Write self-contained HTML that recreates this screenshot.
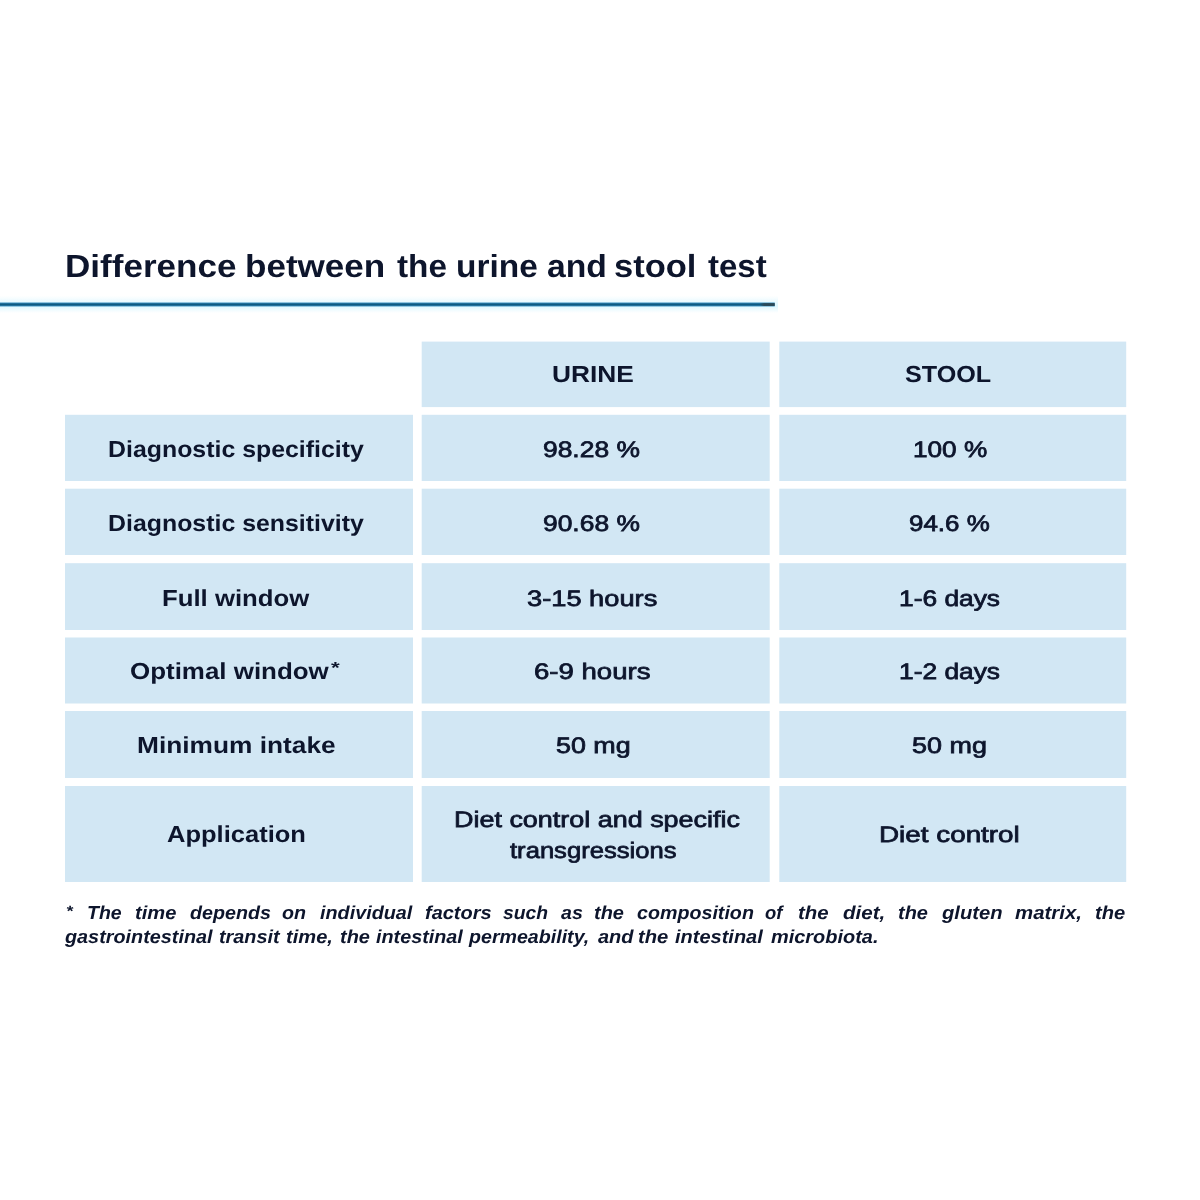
<!DOCTYPE html>
<html lang="en">
<head>
<meta charset="utf-8">
<title>Difference between the urine and stool test</title>
<style>
html,body{margin:0;padding:0;}
body{width:1200px;height:1200px;background:#ffffff;position:relative;overflow:hidden;
  font-family:"Liberation Sans",sans-serif;color:#0d152c;text-rendering:geometricPrecision;}
svg.bg{position:absolute;left:0;top:0;}
.t{position:absolute;white-space:nowrap;line-height:1;transform-origin:0 0;margin:0;}
.b{font-weight:bold}
.r{font-weight:normal;-webkit-text-stroke:0.75px #0d152c}
.i{font-weight:bold;font-style:italic}
.note{margin:0;}
#pg{position:absolute;left:0;top:0;width:1200px;height:1200px;filter:blur(0.7px);}
</style>
</head>
<body>
<div id="pg">
<svg class="bg" width="1200" height="1200" viewBox="0 0 1200 1200">
<defs>
<linearGradient id="rg" x1="0" y1="0" x2="0" y2="1">
<stop offset="0" stop-color="#5aa6cf" stop-opacity="0"/>
<stop offset="0.15" stop-color="#4f9fca" stop-opacity=".5"/>
<stop offset="0.34" stop-color="#1b6c9a"/>
<stop offset="0.5" stop-color="#0e5a81"/>
<stop offset="0.66" stop-color="#1b6c9a"/>
<stop offset="0.85" stop-color="#4f9fca" stop-opacity=".45"/>
<stop offset="1" stop-color="#5aa6cf" stop-opacity="0"/>
</linearGradient>
<linearGradient id="rh" x1="0" y1="0" x2="0" y2="1">
<stop offset="0" stop-color="#d6f5ff" stop-opacity="0"/>
<stop offset="0.45" stop-color="#d6f5ff" stop-opacity=".7"/>
<stop offset="0.6" stop-color="#d6f5ff" stop-opacity=".8"/>
<stop offset="1" stop-color="#d6f5ff" stop-opacity="0"/>
</linearGradient>
<linearGradient id="re" x1="0" y1="0" x2="1" y2="0">
<stop offset="0" stop-color="#2d4652" stop-opacity="0"/>
<stop offset="0.3" stop-color="#2d4652" stop-opacity=".85"/>
<stop offset="1" stop-color="#2d4652" stop-opacity=".9"/>
</linearGradient>
</defs>
<rect x="-6" y="296" width="784" height="17" fill="url(#rh)"/>
<rect x="-6" y="301.5" width="780.7" height="6" fill="url(#rg)"/>
<rect x="759.6" y="303.1" width="15.1" height="2.9" fill="url(#re)"/>
<g fill="#d2e7f4">
<rect x="421.7" y="341.6" width="348" height="65.5"/>
<rect x="779.3" y="341.6" width="346.9" height="65.5"/>
<rect x="65" y="414.8" width="348" height="66.2"/>
<rect x="421.7" y="414.8" width="348" height="66.2"/>
<rect x="779.3" y="414.8" width="346.9" height="66.2"/>
<rect x="65" y="488.7" width="348" height="66.3"/>
<rect x="421.7" y="488.7" width="348" height="66.3"/>
<rect x="779.3" y="488.7" width="346.9" height="66.3"/>
<rect x="65" y="563.2" width="348" height="66.8"/>
<rect x="421.7" y="563.2" width="348" height="66.8"/>
<rect x="779.3" y="563.2" width="346.9" height="66.8"/>
<rect x="65" y="637.5" width="348" height="66"/>
<rect x="421.7" y="637.5" width="348" height="66"/>
<rect x="779.3" y="637.5" width="346.9" height="66"/>
<rect x="65" y="711" width="348" height="67"/>
<rect x="421.7" y="711" width="348" height="67"/>
<rect x="779.3" y="711" width="346.9" height="67"/>
<rect x="65" y="786" width="348" height="96"/>
<rect x="421.7" y="786" width="348" height="96"/>
<rect x="779.3" y="786" width="346.9" height="96"/>
</g>
</svg>
<h1 style="margin:0;font-size:inherit">
<span class="t b" style="left:65.30px;top:251px;font-size:31.9px;transform:scaleX(1.1000)">Difference</span>
<span class="t b" style="left:244.80px;top:251px;font-size:31.9px;transform:scaleX(1.0992)">between</span>
<span class="t b" style="left:396.70px;top:251px;font-size:31.9px;transform:scaleX(1.0447)">the</span>
<span class="t b" style="left:455.90px;top:251px;font-size:31.9px;transform:scaleX(1.0493)">urine</span>
<span class="t b" style="left:546.94px;top:251px;font-size:31.9px;transform:scaleX(1.0556)">and</span>
<span class="t b" style="left:613.92px;top:251px;font-size:31.9px;transform:scaleX(1.0822)">stool</span>
<span class="t b" style="left:708.00px;top:251px;font-size:31.9px;transform:scaleX(1.0357)">test</span>
</h1>
<div class="t b" style="left:552.47px;top:363px;font-size:23.2px;transform:scaleX(1.1343)">URINE</div>
<div class="t b" style="left:904.92px;top:363px;font-size:23.2px;transform:scaleX(1.0846)">STOOL</div>
<div class="t b" style="left:107.55px;top:438px;font-size:23.2px;transform:scaleX(1.0733)">Diagnostic specificity</div>
<div class="t b" style="left:107.55px;top:512px;font-size:23.2px;transform:scaleX(1.0733)">Diagnostic sensitivity</div>
<div class="t b" style="left:161.88px;top:587px;font-size:23.2px;transform:scaleX(1.1100)">Full window</div>
<div class="t b" style="left:130.28px;top:660px;font-size:23.2px;transform:scaleX(1.1181)">Optimal window</div>
<div class="t b" style="left:331.30px;top:661px;font-size:16px;transform:scaleX(1.4000)">*</div>
<div class="t b" style="left:137.23px;top:734px;font-size:23.2px;transform:scaleX(1.1337)">Minimum intake</div>
<div class="t b" style="left:166.90px;top:823px;font-size:23.2px;transform:scaleX(1.1008)">Application</div>
<div class="t r" style="left:543.32px;top:439px;font-size:22.4px;transform:scaleX(1.1790)">98.28 %</div>
<div class="t r" style="left:543.32px;top:513px;font-size:22.4px;transform:scaleX(1.1790)">90.68 %</div>
<div class="t r" style="left:526.78px;top:588px;font-size:22.4px;transform:scaleX(1.2170)">3-15 hours</div>
<div class="t r" style="left:534.27px;top:661px;font-size:22.4px;transform:scaleX(1.2312)">6-9 hours</div>
<div class="t r" style="left:555.80px;top:735px;font-size:22.4px;transform:scaleX(1.2000)">50 mg</div>
<div class="t r" style="left:453.80px;top:809px;font-size:22.4px;transform:scaleX(1.2030)">Diet control and specific</div>
<div class="t r" style="left:510.20px;top:840px;font-size:22.4px;transform:scaleX(1.1434)">transgressions</div>
<div class="t r" style="left:912.58px;top:439px;font-size:22.4px;transform:scaleX(1.1694)">100 %</div>
<div class="t r" style="left:908.84px;top:513px;font-size:22.4px;transform:scaleX(1.1581)">94.6 %</div>
<div class="t r" style="left:898.82px;top:588px;font-size:22.4px;transform:scaleX(1.1765)">1-6 days</div>
<div class="t r" style="left:898.82px;top:661px;font-size:22.4px;transform:scaleX(1.1765)">1-2 days</div>
<div class="t r" style="left:912.10px;top:735px;font-size:22.4px;transform:scaleX(1.2033)">50 mg</div>
<div class="t r" style="left:878.86px;top:824px;font-size:22.4px;transform:scaleX(1.2432)">Diet control</div>
<p class="note">
<span class="t i" style="left:66.34px;top:904px;font-size:15px;transform:scaleX(1.1600)">*</span>
<span class="t i" style="left:87.36px;top:904px;font-size:18.8px;transform:scaleX(1.0378)">The</span>
<span class="t i" style="left:135.37px;top:904px;font-size:18.8px;transform:scaleX(1.0705)">time</span>
<span class="t i" style="left:189.70px;top:904px;font-size:18.8px;transform:scaleX(1.0467)">depends</span>
<span class="t i" style="left:282.07px;top:904px;font-size:18.8px;transform:scaleX(1.0479)">on</span>
<span class="t i" style="left:319.68px;top:904px;font-size:18.8px;transform:scaleX(1.0527)">individual</span>
<span class="t i" style="left:424.52px;top:904px;font-size:18.8px;transform:scaleX(1.0628)">factors</span>
<span class="t i" style="left:502.78px;top:904px;font-size:18.8px;transform:scaleX(1.0270)">such</span>
<span class="t i" style="left:560.58px;top:904px;font-size:18.8px;transform:scaleX(1.0425)">as</span>
<span class="t i" style="left:593.97px;top:904px;font-size:18.8px;transform:scaleX(1.0624)">the</span>
<span class="t i" style="left:636.99px;top:904px;font-size:18.8px;transform:scaleX(1.0470)">composition</span>
<span class="t i" style="left:764.56px;top:904px;font-size:18.8px;transform:scaleX(0.9814)">of</span>
<span class="t i" style="left:798.01px;top:904px;font-size:18.8px;transform:scaleX(1.0856)">the</span>
<span class="t i" style="left:842.55px;top:904px;font-size:18.8px;transform:scaleX(1.0960)">diet,</span>
<span class="t i" style="left:897.72px;top:904px;font-size:18.8px;transform:scaleX(1.0624)">the</span>
<span class="t i" style="left:941.67px;top:904px;font-size:18.8px;transform:scaleX(1.0755)">gluten</span>
<span class="t i" style="left:1015.29px;top:904px;font-size:18.8px;transform:scaleX(1.0863)">matrix,</span>
<span class="t i" style="left:1095.34px;top:904px;font-size:18.8px;transform:scaleX(1.0717)">the</span>
</p>
<p class="note">
<span class="t i" style="left:65.15px;top:928px;font-size:18.8px;transform:scaleX(1.0550)">gastrointestinal</span>
<span class="t i" style="left:218.84px;top:928px;font-size:18.8px;transform:scaleX(1.0563)">transit</span>
<span class="t i" style="left:286.13px;top:928px;font-size:18.8px;transform:scaleX(1.0696)">time,</span>
<span class="t i" style="left:340.22px;top:928px;font-size:18.8px;transform:scaleX(1.0624)">the</span>
<span class="t i" style="left:375.94px;top:928px;font-size:18.8px;transform:scaleX(1.0526)">intestinal</span>
<span class="t i" style="left:469.12px;top:928px;font-size:18.8px;transform:scaleX(1.0444)">permeability,</span>
<span class="t i" style="left:597.55px;top:928px;font-size:18.8px;transform:scaleX(1.0631)">and</span>
<span class="t i" style="left:638.39px;top:928px;font-size:18.8px;transform:scaleX(1.0763)">the</span>
<span class="t i" style="left:675.19px;top:928px;font-size:18.8px;transform:scaleX(1.0646)">intestinal</span>
<span class="t i" style="left:771.33px;top:928px;font-size:18.8px;transform:scaleX(1.0616)">microbiota.</span>
</p>
</div>
</body>
</html>
